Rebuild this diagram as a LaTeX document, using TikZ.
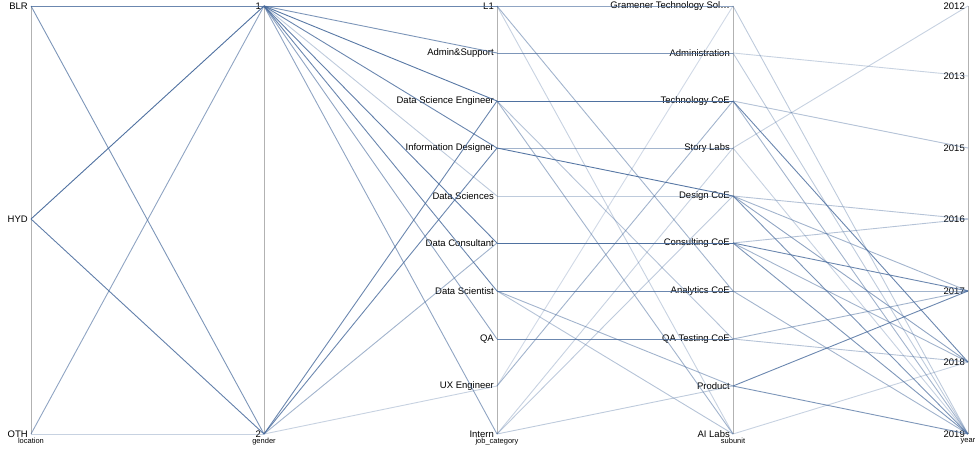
\documentclass[tikz,border=0pt]{standalone}
\usepackage{fontspec}
\setmainfont{Liberation Sans}
\definecolor{lc}{RGB}{70,105,155}
\begin{document}
\begin{tikzpicture}[x=1pt,y=-1pt,
  ax/.style={draw=gray!60,line width=0.8pt},
  lbl/.style={anchor=east,inner sep=1pt,font=\fontsize{9.5}{11}\selectfont},
  ttl/.style={anchor=north,inner sep=0pt,font=\fontsize{7.5}{8}\selectfont},
  ln/.style={draw=lc,line width=0.9pt}]
\useasboundingbox (0,0) rectangle (975,448);
\foreach \x/\n in {31/location,264/gender,497/job\_category,733/subunit,968/year}
  {\draw[ax] (\x,6) -- (\x,434); \node[ttl] at (\x,438) {\n};}
\foreach \n/\y/\t in {blr/6/BLR,hyd/219/HYD,oth/434/OTH}
  {\coordinate (\n) at (31,\y); \node[lbl] at (29,\y) {\t};}
\foreach \n/\y/\t in {g1/6/1,g2/434/2}
  {\coordinate (\n) at (264,\y); \node[lbl] at (262,\y) {\t};}
\foreach \n/\y/\t in {l1/6/L1,adm/53/Admin\&Support,dse/101/Data Science Engineer,
  idg/148/Information Designer,dsc/196/Data Sciences,dcn/243/Data Consultant,
  dst/291/Data Scientist,qa/339/QA,ux/386/UX Engineer,int/434/Intern}
  {\coordinate (\n) at (497,\y); \node[lbl] at (495,\y) {\t};}
\foreach \n/\y/\t in {gts/6/Gramener Technology Sol…,sad/53/Administration,tco/101/Technology CoE,
  stl/148/Story Labs,dco/196/Design CoE,cco/243/Consulting CoE,aco/291/Analytics CoE,
  qat/339/QA Testing CoE,prd/386/Product,ail/434/AI Labs}
  {\coordinate (\n) at (733,\y); \node[lbl] at (731,\y) {\t};}
\foreach \n/\y/\t in {y12/6/2012,y13/76/2013,y15/148/2015,y16/219/2016,y17/291/2017,y18/362/2018,y19/434/2019}
  {\coordinate (\n) at (968,\y); \node[lbl] at (966,\y) {\t};}
\foreach \a/\b/\o in {blr/g1/0.8,blr/g2/0.7,hyd/g1/0.95,hyd/g2/0.85,oth/g1/0.6,oth/g2/0.3,
  g1/l1/0.8,g1/adm/0.7,g1/dse/0.9,g1/idg/0.8,g1/dsc/0.35,g1/dcn/0.85,g1/dst/0.8,g1/qa/0.6,g1/int/0.6,
  g2/dse/0.8,g2/idg/0.8,g2/dcn/0.5,g2/ux/0.3,
  l1/gts/0.6,l1/aco/0.5,adm/sad/0.7,dse/tco/0.95,dse/ail/0.5,dse/qat/0.4,idg/stl/0.5,idg/dco/0.9,
  dsc/dco/0.35,dcn/cco/0.95,dst/aco/0.8,dst/ail/0.4,dst/prd/0.5,qa/qat/0.8,ux/tco/0.5,
  int/dco/0.35,int/stl/0.3,l1/ail/0.3,ux/gts/0.25,int/prd/0.35,
  gts/y19/0.35,sad/y13/0.3,sad/y19/0.35,tco/y15/0.4,tco/y18/0.8,tco/y19/0.5,stl/y12/0.3,
  dco/y16/0.4,dco/y17/0.5,dco/y18/0.6,dco/y19/0.7,cco/y16/0.4,cco/y17/0.8,cco/y18/0.5,cco/y19/0.7,
  aco/y17/0.5,aco/y19/0.5,qat/y17/0.5,qat/y18/0.4,prd/y17/0.8,prd/y19/0.7,ail/y18/0.3,stl/y19/0.3}
  {\draw[ln,draw opacity=\o] (\a) -- (\b);}
\end{tikzpicture}
\end{document}
